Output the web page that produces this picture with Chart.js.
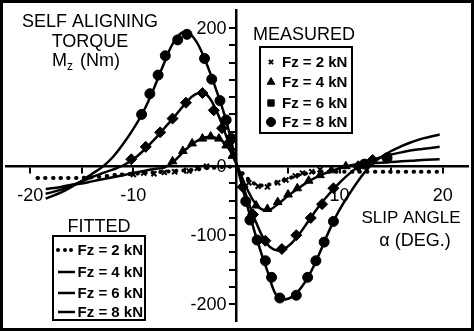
<!DOCTYPE html>
<html>
<head>
<meta charset="utf-8">
<script src="https://cdn.jsdelivr.net/npm/chart.js@4.4.1/dist/chart.umd.min.js"></script>
<style>
  html, body { margin: 0; padding: 0; background: #fff; }
  canvas { display: block; }
</style>
</head>
<body>
<canvas id="mzChart" width="474" height="331"></canvas>
<script>
// fitted curves, Fz = 4, 6, 8 kN (slip angle in deg, Mz in Nm)
var fitAngles = [-18.5, -17, -16, -15, -14, -13, -12, -11, -10, -9, -8, -7, -6, -5, -4, -3, -2, -1, 0,
  1, 2, 3, 4, 5, 6, 7, 8, 9, 10, 11, 12, 13, 14, 15, 16, 17, 18, 19.7];
var fit4 = [-33, -30, -27, -25, -22, -19, -16, -13, -10, -7, -4, -2, 8, 23, 35, 42, 41, 31, 3,
  -32, -57, -64, -55, -43, -32, -22, -14, -8, -3, 1, 3, 4, 5, 6, 7, 8, 9, 10];
var fit6 = [-40, -34, -28, -22, -16, -10, -5, 1, 10, 23, 38, 55, 72, 90, 104, 105, 82, 44, 3,
  -45, -85, -113, -122, -116, -100, -79, -58, -40, -24, -10, 1, 8, 13, 17, 20, 23, 25, 28];
var fit8 = [-47, -38, -30, -21, -11, -1, 13, 32, 54, 80, 113, 150, 182, 195, 183, 152, 112, 66, 4,
  -55, -107, -152, -190, -192, -181, -159, -128, -93, -63, -39, -17, 1, 13, 22, 29, 35, 40, 46];

// fitted curve, Fz = 2 kN
var fit2Angles = [-19.3, -18, -17, -16, -15, -14, -13, -12, -11, -10, -9, -8, -7, -6, -5, -4, -3, -2, -1, 0,
  1, 2, 3, 4, 5, 6, 7, 8, 9, 10, 11, 12, 13, 14, 15, 16, 17, 18, 19, 20];
var fit2 = [-17, -17, -17, -17, -17, -16, -15, -13, -12, -11, -10, -9, -8, -7, -6, -5, -3, -2, -1, -2,
  -17, -27, -27, -23, -18, -13, -10, -8, -8, -8, -8, -8, -8, -8, -8, -8, -8, -8, -8, -8];

// measured points
var meas2Angles = [-10, -9, -8, -7, -6, -4.6, -3.8, -2.9, 1.2, 2.1, 3.0, 4.0, 4.8, 5.7, 6.4, 7.3, 8.1];
var meas2 = [-12, -10, -11, -9, -8, -7, -3, 0, -24, -29, -30, -24, -20, -14, -10, -8, -5];
var meas4Angles = [-6.2, -5.2, -4.3, -3.3, -2.5, -1.7, -1.0, -0.4, 1.9, 3.0, 4.0, 5.0, 5.9, 7.0, 8.1, 9.2, 10.6];
var meas4 = [7, 22, 33, 40, 43, 40, 30, 15, -57, -62, -52, -41, -32, -21, -13, -6, 0];
var meas6Angles = [-10.2, -8.8, -7.4, -6.2, -4.9, -3.3, -2.2, -1.4, -0.8, 0.6, 1.6, 2.8, 4.4, 5.8, 7.2, 8.3, 9.4, 11.8, 13.2];
var meas6 = [10, 28, 49, 69, 92, 106, 81, 55, 33, -30, -70, -108, -120, -100, -75, -55, -32, 0, 9];
var meas8Angles = [-9.2, -8.4, -7.6, -6.9, -5.7, -4.8, -3.1, -2.4, -1.6, -1.0, -0.5, 0.9, 1.3, 2.0, 2.8, 3.4, 4.2,
  5.8, 6.9, 7.7, 8.5, 9.4, 12.4, 14.6];
var meas8 = [75, 105, 132, 160, 183, 191, 156, 126, 95, 67, 40, -51, -78, -107, -137, -161, -191,
  -187, -161, -137, -110, -80, 3, 12];

// axis ticks and the ones that carry a label
var xTicks = [-20, -15, -10, -5, 5, 10, 15, 20];
var xLabels = [-20, -10, 10, 20];
var yTicks = [-200, -175, -150, -125, -100, -75, -50, -25, 0, 25, 50, 75, 100, 125, 150, 175, 200];
var yLabels = [200, 0, -100, -200];

var legendLabels = ["Fz = 2 kN", "Fz = 4 kN", "Fz = 6 kN", "Fz = 8 kN"];

function pts(xs, ys) {
  return xs.map(function (x, i) {
    return { x: x, y: ys[i] };
  });
}

var FONT = "'Liberation Sans', Arial, sans-serif";

var markStyles = [
  { pointStyle: "crossRot", radius: 3.5, borderWidth: 2 },
  { pointStyle: "triangle", radius: 5, borderWidth: 1 },
  { pointStyle: "rectRot", radius: 5.5, borderWidth: 1 },
  { pointStyle: "circle", radius: 5, borderWidth: 1 }
];

function measured(data, st) {
  return {
    data: data,
    showLine: false,
    pointStyle: st.pointStyle,
    pointRadius: st.radius,
    pointBorderWidth: st.borderWidth,
    pointBackgroundColor: "#000",
    pointBorderColor: "#000"
  };
}

function fitted(data) {
  return {
    data: data,
    showLine: true,
    tension: 0.4,
    borderColor: "#000",
    borderWidth: 2.5,
    pointRadius: 0
  };
}

// frame, y tick labels, titles and the two legend boxes
var annotations = {
  id: "annotations",
  afterDraw: function (chart) {
    var ctx = chart.ctx;
    var xs = chart.scales.x, ys = chart.scales.y;
    ctx.save();
    ctx.fillStyle = "#000";
    ctx.strokeStyle = "#000";

    ctx.lineWidth = 3;
    ctx.strokeRect(1.5, 1.5, 471, 328);

    // y labels sit left of the tick marks on the centred axis
    var axisX = xs.getPixelForValue(0);
    ctx.font = "18px " + FONT;
    ctx.textAlign = "right";
    ctx.textBaseline = "middle";
    yLabels.forEach(function (v) {
      ctx.fillText(String(v), axisX - 10, ys.getPixelForValue(v) + 1);
    });

    ctx.textBaseline = "alphabetic";
    ctx.textAlign = "center";
    ctx.fillText("SELF ALIGNING", 90, 27);
    ctx.fillText("TORQUE", 90, 47);
    ctx.textAlign = "left";
    ctx.fillText("M", 52, 66);
    ctx.font = "12px " + FONT;
    ctx.fillText("z", 67, 70);
    ctx.font = "18px " + FONT;
    ctx.fillText("(Nm)", 80, 66);

    ctx.textAlign = "center";
    ctx.fillText("MEASURED", 304, 40);
    ctx.fillText("FITTED", 99, 232);
    ctx.font = "17px " + FONT;
    ctx.fillText("SLIP ANGLE", 411, 223);
    ctx.font = "18px " + FONT;
    ctx.fillText("\u03b1 (DEG.)", 415, 246);

    // measured legend
    ctx.lineWidth = 2;
    ctx.strokeRect(260, 47, 92, 86);
    var rowsM = [62, 82, 103, 122];
    ctx.font = "bold 15px " + FONT;
    ctx.textAlign = "left";
    ctx.textBaseline = "middle";
    rowsM.forEach(function (y, i) {
      ctx.lineWidth = markStyles[i].borderWidth;
      Chart.helpers.drawPoint(ctx, {
        pointStyle: i === 2 ? "rect" : markStyles[i].pointStyle,
        radius: i === 0 ? 3 : 4.5,
        rotation: 0,
        borderWidth: markStyles[i].borderWidth
      }, 271, y);
      ctx.fillText(legendLabels[i], 282, y + 1);
    });

    // fitted legend
    ctx.lineWidth = 2;
    ctx.strokeRect(53, 236, 92, 84);
    var rowsF = [250, 272, 293, 312];
    ctx.textAlign = "right";
    rowsF.forEach(function (y, i) {
      if (i === 0) {
        [58, 65, 71].forEach(function (x) {
          ctx.beginPath();
          ctx.arc(x, y, 2, 0, Math.PI * 2);
          ctx.fill();
        });
      } else {
        ctx.lineWidth = 2.5;
        ctx.beginPath();
        ctx.moveTo(58, y);
        ctx.lineTo(75, y);
        ctx.stroke();
      }
      ctx.fillText(legendLabels[i], 143, y + 1);
    });
    ctx.restore();
  }
};

var ctx = document.getElementById("mzChart").getContext("2d");
var mzChart = new Chart(ctx, {
  type: "scatter",
  data: {
    datasets: [
      measured(pts(meas2Angles, meas2), markStyles[0]),
      measured(pts(meas4Angles, meas4), markStyles[1]),
      measured(pts(meas6Angles, meas6), markStyles[2]),
      measured(pts(meas8Angles, meas8), markStyles[3]),
      {
        data: pts(fit2Angles, fit2),
        showLine: true,
        tension: 0.4,
        borderColor: "#000",
        borderWidth: 4,
        borderDash: [0.5, 7.2],
        borderCapStyle: "round",
        pointRadius: 0
      },
      fitted(pts(fitAngles, fit4)),
      fitted(pts(fitAngles, fit6)),
      fitted(pts(fitAngles, fit8))
    ]
  },
  options: {
    responsive: false,
    animation: false,
    devicePixelRatio: 1,
    layout: { padding: { left: 3, right: 3, top: 3, bottom: 3 } },
    plugins: {
      legend: { display: false },
      tooltip: { enabled: false }
    },
    scales: {
      x: {
        type: "linear",
        min: -22.3,
        max: 22.4,
        position: { y: 0 },
        afterBuildTicks: function (scale) {
          scale.ticks = xTicks.map(function (v) { return { value: v }; });
        },
        ticks: {
          autoSkip: false,
          maxRotation: 0,
          padding: 13,
          color: "#000",
          font: { family: FONT, size: 18 },
          callback: function (v) {
            return xLabels.indexOf(v) >= 0 ? String(v) : "";
          }
        },
        grid: { drawOnChartArea: false, color: "#000", lineWidth: 2, tickLength: 6 },
        border: { color: "#000", width: 2.5 }
      },
      y: {
        type: "linear",
        min: -224,
        max: 226,
        position: { x: 0 },
        afterBuildTicks: function (scale) {
          scale.ticks = yTicks.map(function (v) { return { value: v }; });
        },
        // labels are drawn by the annotations plugin; keep only the tick marks here
        ticks: {
          autoSkip: false,
          callback: function () { return ""; }
        },
        grid: { drawOnChartArea: false, color: "#000", lineWidth: 2, tickLength: 6 },
        border: { color: "#000", width: 2.5 }
      }
    }
  },
  plugins: [annotations]
});
</script>
</body>
</html>
